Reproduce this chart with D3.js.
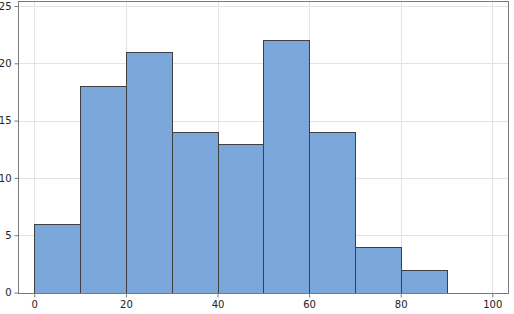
<!DOCTYPE html>
<html>
<head>
<meta charset="utf-8">
<script src="https://cdn.jsdelivr.net/npm/d3@7"></script>
<style>
	body { margin: 0; background: #fff; }
	svg { display: block; }
</style>
</head>
<body>
<div id="chart"></div>
<script>
// histogram bins (lower edge, upper edge) and counts
var binStarts = [0, 10, 20, 30, 40, 50, 60, 70, 80];
var binEnds = [10, 20, 30, 40, 50, 60, 70, 80, 90];
var counts = [6, 18, 21, 14, 13, 22, 14, 4, 2];
var xTicks = [0, 20, 40, 60, 80, 100];
var yTicks = [0, 5, 10, 15, 20, 25];

var width = 514, height = 314;
var frame = { left: 18, top: 1, right: 508, bottom: 293 };

var svg = d3.select('#chart')
	.append('svg')
	.attr('width', width)
	.attr('height', height)
	.style('font-family', '"DejaVu Sans", Verdana, sans-serif')
	.style('font-size', '10px');

var x = d3.scaleLinear().domain([0, 100]).range([34.3, 492.3]);
var y = d3.scaleLinear().domain([0, 25]).range([292.5, 6]);

// grid
svg.append('g').selectAll('line.gx')
	.data(xTicks).enter().append('line')
	.attr('x1', function (d) { return Math.round(x(d)) + 0.5; })
	.attr('x2', function (d) { return Math.round(x(d)) + 0.5; })
	.attr('y1', frame.top).attr('y2', frame.bottom)
	.style('stroke', '#e3e3e3');
svg.append('g').selectAll('line.gy')
	.data(yTicks).enter().append('line')
	.attr('y1', function (d) { return Math.round(y(d)) + 0.5; })
	.attr('y2', function (d) { return Math.round(y(d)) + 0.5; })
	.attr('x1', frame.left).attr('x2', frame.right)
	.style('stroke', '#e3e3e3');

// bars
svg.append('g').selectAll('rect')
	.data(counts).enter().append('rect')
	.attr('x', function (d, i) { return Math.round(x(binStarts[i])) + 0.5; })
	.attr('width', function (d, i) { return Math.round(x(binEnds[i])) - Math.round(x(binStarts[i])); })
	.attr('y', function (d) { return Math.round(y(d)) + 0.5; })
	.attr('height', function (d) { return Math.round(y(0)) - Math.round(y(d)); })
	.style('fill', '#7ba6d9')
	.style('stroke', '#3f3f3f')
	.style('stroke-width', 1);

// frame
svg.append('rect')
	.attr('x', frame.left + 0.5).attr('y', frame.top + 0.5)
	.attr('width', frame.right - frame.left)
	.attr('height', frame.bottom - frame.top)
	.style('fill', 'none')
	.style('stroke', '#7a7a7a');

// axes
var xAxis = svg.append('g')
	.attr('class', 'axis')
	.attr('transform', 'translate(0,' + (frame.bottom + 0.5) + ')')
	.call(d3.axisBottom(x).tickValues(xTicks).tickSize(4).tickPadding(3).tickFormat(d3.format('d')));
var yAxis = svg.append('g')
	.attr('class', 'axis')
	.attr('transform', 'translate(' + (frame.left + 0.5) + ',0)')
	.call(d3.axisLeft(y).tickValues(yTicks).tickSize(4).tickPadding(3).tickFormat(d3.format('d')));

svg.selectAll('.axis .domain').remove();
svg.selectAll('.axis .tick line').style('stroke', '#7a7a7a');
svg.selectAll('.axis text')
	.style('fill', '#222')
	.style('font-family', '"DejaVu Sans", Verdana, sans-serif')
	.style('font-size', '10px');
</script>
</body>
</html>
